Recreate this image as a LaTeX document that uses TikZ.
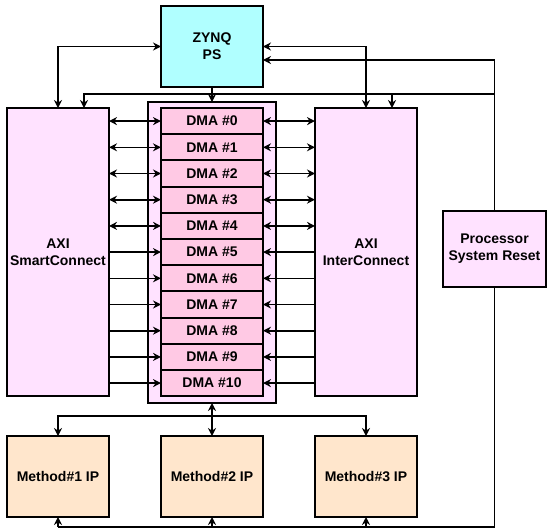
\documentclass[tikz,border=0pt]{standalone}
\usepackage{fontspec}
\setmainfont{Liberation Sans}
\usetikzlibrary{arrows.meta}
\definecolor{pscyan}{HTML}{B0FFFF}
\definecolor{blockpink}{HTML}{FFE2FF}
\definecolor{dmapink}{HTML}{FFC9E4}
\definecolor{ippeach}{HTML}{FFE6CC}
\tikzset{
	blk/.style={draw=black, line width=2pt, inner sep=0pt, outer sep=0pt, align=center,
		font=\bfseries\fontsize{14}{17}\selectfont},
	conn/.style={line width=1.6pt, >={Stealth[length=8pt,width=8pt]}}
}

\begin{document}
\begin{tikzpicture}[x=1pt, y=-1pt]
			%%%%% START %%%%%
			
			\useasboundingbox (0, 0) rectangle (550, 530);
			
			\node[blk, fill=pscyan, minimum width=102pt, minimum height=81pt] (zynq) at (212, 46.5) {ZYNQ\\PS};
			
			\node[blk, fill=blockpink, minimum width=102pt, minimum height=288pt] (smart) at (58, 252) {AXI\\SmartConnect};
			\node[blk, fill=blockpink, minimum width=102pt, minimum height=288pt] (inter) at (366, 252) {AXI\\InterConnect};
			\node[blk, fill=blockpink, minimum width=128pt, minimum height=301pt] (dmagrp) at (212, 252.5) {};
			\node[blk, fill=blockpink, minimum width=103pt, minimum height=76pt] (reset) at (494.5, 249) {Processor\\System Reset};
			
			\foreach \i in {0,...,10}
				\node[blk, fill=dmapink, minimum width=102pt, minimum height=26.2pt] (d\i) at (212, 121.1+26.2*\i) {DMA \#\i};
			
			\node[blk, fill=ippeach, minimum width=102pt, minimum height=81pt] (m1) at (58, 476.5) {Method\#1 IP};
			\node[blk, fill=ippeach, minimum width=102pt, minimum height=81pt] (m2) at (212, 476.5) {Method\#2 IP};
			\node[blk, fill=ippeach, minimum width=102pt, minimum height=81pt] (m3) at (366, 476.5) {Method\#3 IP};
			
			\coordinate (rstbus) at (494.5, 94);
			\coordinate (rstlow) at (494.5, 527);
			\coordinate (mbus) at (212, 416);
			
			% PS links
			\draw[conn, <->] (zynq.west) -| (smart.north);
			\draw[conn, <->] (zynq.east) -| (inter.north);
			\draw[conn, <-] ([yshift=-13.5pt]zynq.east) -| (reset.north);
			\draw[conn, ->] (zynq.south) -- (dmagrp.north);
			
			% reset lines
			\draw[conn, ->] (rstbus) -| ([xshift=26pt]smart.north);
			\draw[conn, ->] ([xshift=26pt]inter.north |- rstbus) -- ([xshift=26pt]inter.north);
			\draw[conn] (reset.south) -- (rstlow) -- (m1.south |- rstlow);
			\foreach \m in {m1,m2,m3}
				\draw[conn, ->] (\m.south |- rstlow) -- (\m.south);
			
			% DMA channels
			\foreach \i in {0,...,4} {
				\draw[conn, <->] (smart.east |- d\i) -- (d\i.west);
				\draw[conn, <->] (d\i.east) -- (inter.west |- d\i);
			}
			\foreach \i in {5,...,10} {
				\draw[conn, ->] (smart.east |- d\i) -- (d\i.west);
				\draw[conn, ->] (inter.west |- d\i) -- (d\i.east);
			}
			
			% IP links
			\draw[conn, <->] (dmagrp.south) -- (m2.north);
			\draw[conn, <->] (m1.north) |- (mbus) -| (m3.north);
			
			%%%%% END %%%%%
\end{tikzpicture}
\end{document}
